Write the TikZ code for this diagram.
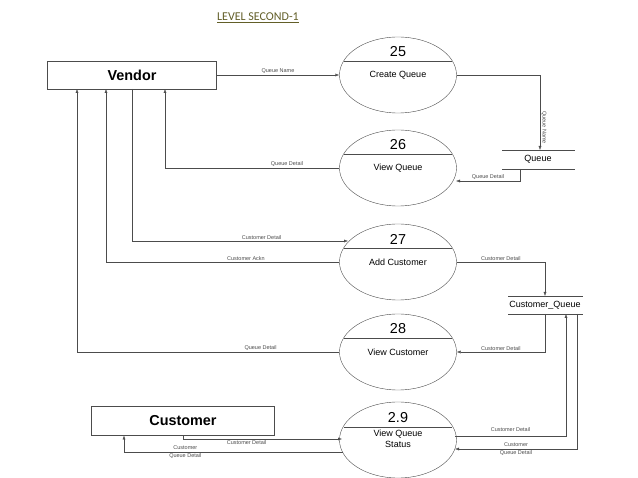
\documentclass[tikz,border=0pt]{standalone}
\usepackage{fontspec}
\setmainfont{Liberation Sans}
\newfontfamily\titlefont{Carlito}
\usetikzlibrary{shapes.geometric,arrows.meta}
\begin{document}
\begin{tikzpicture}[x=1pt,y=-1pt,
    proc/.style={draw,ellipse,minimum width=117pt,minimum height=76pt,inner sep=0pt},
    ent/.style={draw,text=black,font=\bfseries\Large,inner sep=0pt},
    num/.style={text=black,font=\Large},
    pname/.style={text=black,font=\small,align=center,inner sep=0pt},
    flow/.style={-{Latex[length=4pt,width=3pt]}},
    lbl/.style={font=\fontsize{5.5}{6}\selectfont,inner sep=1.5pt},
    gray!60!black]
\useasboundingbox (0,0) rectangle (638,478);
% title
\node[font=\titlefont\large,text=olive!60!black] (title) at (258,18) {\underline{LEVEL SECOND-1}};

% external entities
\node[ent,minimum width=169pt,minimum height=28pt] (vendor) at (132,75) {Vendor};
\node[ent,minimum width=183pt,minimum height=29pt] (customer) at (183,421) {Customer};

% processes
\foreach \n/\y/\t in {25/75/Create Queue,26/168/View Queue,27/262/Add Customer,28/352/View Customer}{
  \node[proc] (p\n) at (398,\y) {};
  \draw (344,\y-14) -- (452,\y-14);
  \node[num] (n\n) at (398,\y-23) {\n};
  \node[pname] (t\n) at (398,\y) {\t};
}
\node[proc] (p29) at (398,440) {};
\draw (344,427) -- (452,427);
\node[num] (n29) at (398,418) {2.9};
\node[pname] (t29) at (398,439) {View Queue\\Status};

% data stores
\draw (502,150) -- (575,150) (502,169) -- (575,169);
\node[pname] (queue) at (538,159) {Queue};
\draw (508,296) -- (583,296) (508,314) -- (583,314);
\node[pname] (cq) at (545,305) {Customer\_Queue};

% flows
\draw[flow] (vendor.east) -- node[lbl,above]{Queue Name} (p25.west);
\draw[flow] (p25.east) -- (540,75) -- node[lbl,sloped,above,pos=.7]{Queue Name} (540,150);
\draw[flow] (520,169) -- (520,181) -- node[lbl,above]{Queue Detail} (456,181);
\draw[flow] (p26.west) -- node[lbl,above,pos=.3]{Queue Detail} (165,168) -- (165,89);
\draw[flow] (132,89) -- (132,241) -- node[lbl,above,pos=.6]{Customer Detail} (348,241);
\draw[flow] (p27.west) -- node[lbl,above,pos=.4]{Customer Ackn} (106,262) -- (106,89);
\draw[flow] (p27.east) -- node[lbl,above]{Customer Detail} (545,262) -- (545,296);
\draw[flow] (545,314) -- (545,352) -- node[lbl,above]{Customer Detail} (p28.east);
\draw[flow] (p28.west) -- node[lbl,above,pos=.3]{Queue Detail} (77,352) -- (77,89);
\draw[flow] (455,436) -- node[lbl,above,yshift=3pt]{Customer Detail} (566,436) -- (566,314);
\draw[flow] (577,314) -- (577,449) -- node[lbl,align=center]{Customer\\[2pt]Queue Detail} (455,449);
\draw[flow] (183,435.5) -- (183,439) -- node[lbl,below,pos=.4]{Customer Detail} (342,439);
\draw[flow] (343,452) -- node[lbl,align=center,pos=.72]{Customer\\[2pt]Queue Detail} (124,452) -- (124,435.5);
\end{tikzpicture}
\end{document}
